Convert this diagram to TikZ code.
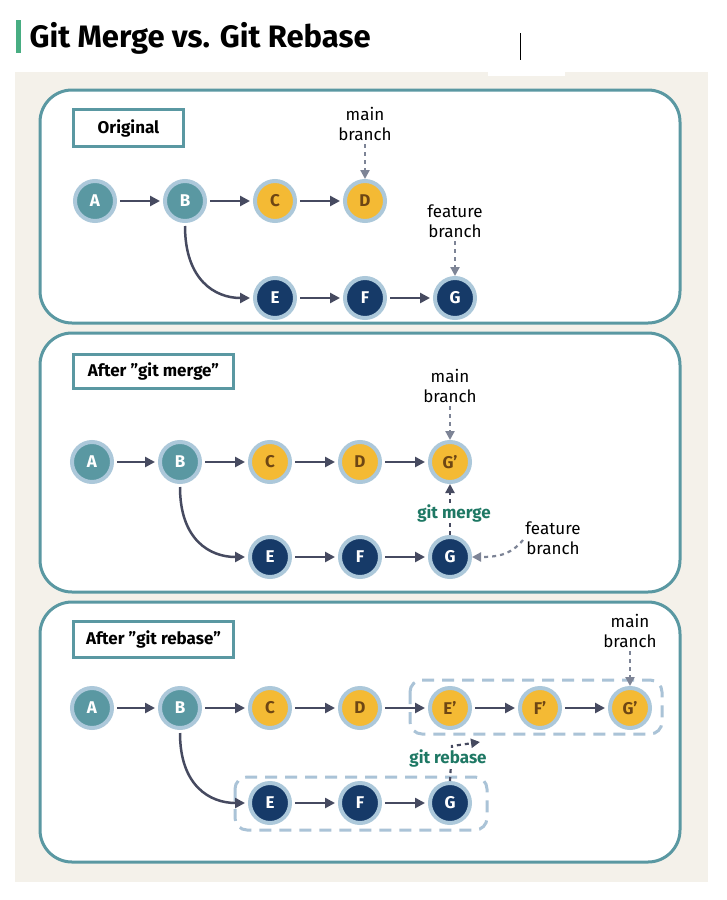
\documentclass[tikz,border=0pt]{standalone}
\usepackage{fontspec}
\setmainfont{Fira Sans}
\usetikzlibrary{arrows.meta}
\definecolor{teal}{RGB}{90,152,162}
\definecolor{ring}{RGB}{172,200,218}
\definecolor{yel}{RGB}{244,186,52}
\definecolor{navy}{RGB}{22,58,104}
\definecolor{arr}{RGB}{70,74,96}
\definecolor{dgray}{RGB}{125,132,150}
\definecolor{beige}{RGB}{244,241,234}
\definecolor{gtxt}{RGB}{30,120,100}
\definecolor{brown}{RGB}{110,70,20}
\definecolor{dbox}{RGB}{170,195,215}
\newcommand{\dq}{\symbol{34}}
\begin{document}
\begin{tikzpicture}[x=1pt,y=-1pt,
  cmt/.style={circle,minimum size=40pt,inner sep=0pt,draw=ring,line width=4pt,font=\fontsize{17}{19}\selectfont\bfseries},
  ct/.style={cmt,fill=teal,text=white},
  cy/.style={cmt,fill=yel,text=brown},
  cn/.style={cmt,fill=navy,text=white},
  ar/.style={arr,line width=2.5pt,-{Triangle[length=10pt,width=10pt]},shorten >=3pt,shorten <=3pt},
  da/.style={dgray,line width=2.2pt,dash pattern=on 4pt off 4pt,-{Triangle[length=9pt,width=9pt]}},
  panel/.style={draw=teal,line width=3pt,fill=white,rounded corners=32pt},
  lbl/.style={draw=teal,line width=3pt,fill=white,inner sep=0pt,font=\fontsize{17}{19}\selectfont\bfseries,anchor=north west},
  txt/.style={font=\fontsize{17}{20}\selectfont,align=center},
  gt/.style={fill=white,inner sep=1pt,font=\fontsize{17}{20}\selectfont\bfseries,text=gtxt},
  dbx/.style={draw=dbox,line width=3pt,dash pattern=on 12pt off 8pt,rounded corners=12pt}]
\useasboundingbox (0,0) rectangle (726,900);
\fill[white] (0,0) rectangle (726,900);
\fill[beige] (15,72) rectangle (708,882);
\fill[white] (488,56) rectangle (565,76);
\fill[teal!80!green] (16,20) rectangle (21,53);
\node[anchor=west,font=\fontsize{31}{34}\selectfont\bfseries] (title) at (26,38) {Git Merge vs. Git Rebase};
\draw[black,line width=1pt] (520,33) -- (520,60);
% panel 1
\draw[panel] (40,90) rectangle (680,323);
\node[lbl,minimum width=110pt,minimum height=37pt] (l1) at (72,108) {Original};
\node[ct] (A1) at (95,201) {A};
\node[ct] (B1) at (185,201) {B};
\node[cy] (C1) at (275,201) {C};
\node[cy] (D1) at (365,201) {D};
\node[cn] (E1) at (275,298) {E};
\node[cn] (F1) at (365,298) {F};
\node[cn] (G1) at (455,298) {G};
\draw[ar] (A1)--(B1); \draw[ar] (B1)--(C1); \draw[ar] (C1)--(D1);
\draw[ar] (E1)--(F1); \draw[ar] (F1)--(G1);
\draw[ar] (B1.south) .. controls (185,280) and (215,298) .. (E1.west);
\node[txt] (m1) at (365,124) {main\\branch};
\node[txt] (f1) at (455,221) {feature\\branch};
\draw[da] (m1.south) -- (D1.north);
\draw[da] (f1.south) -- (G1.north);
% panel 2
\draw[panel] (40,333) rectangle (680,592);
\node[lbl,minimum width=160pt,minimum height=34pt] (l2) at (72,353) {After \dq git merge\dq};
\node[ct] (A2) at (92,462) {A};
\node[ct] (B2) at (180,462) {B};
\node[cy] (C2) at (270,462) {C};
\node[cy] (D2) at (360,462) {D};
\node[cy] (Gp2) at (450,462) {G'};
\node[cn] (E2) at (270,557) {E};
\node[cn] (F2) at (360,557) {F};
\node[cn] (G2) at (450,557) {G};
\draw[ar] (A2)--(B2); \draw[ar] (B2)--(C2); \draw[ar] (C2)--(D2); \draw[ar] (D2)--(Gp2);
\draw[ar] (E2)--(F2); \draw[ar] (F2)--(G2);
\draw[ar] (B2.south) .. controls (180,540) and (210,557) .. (E2.west);
\node[txt] (m2) at (450,386) {main\\branch};
\draw[da] (m2.south) -- (Gp2.north);
\draw[da,arr] (G2.north) -- (Gp2.south);
\node[gt] (gm) at (454,513) {git merge};
\node[txt] (f2) at (553,538) {feature\\branch};
\coordinate (fs) at (523,540);
\draw[da] (fs) .. controls (510,556) and (495,557) .. (G2.east);
% panel 3
\draw[panel] (40,602) rectangle (680,862);
\node[lbl,minimum width=160pt,minimum height=36pt] (l3) at (72,620) {After \dq git rebase\dq};
\draw[dbx] (410,680) rectangle (662,734);
\draw[dbx] (235,777) rectangle (487,830);
\node[ct] (A3) at (92,708) {A};
\node[ct] (B3) at (180,708) {B};
\node[cy] (C3) at (270,708) {C};
\node[cy] (D3) at (360,708) {D};
\node[cy] (Ep3) at (450,708) {E'};
\node[cy] (Fp3) at (540,708) {F'};
\node[cy] (Gp3) at (630,708) {G'};
\node[cn] (E3) at (270,803) {E};
\node[cn] (F3) at (360,803) {F};
\node[cn] (G3) at (450,803) {G};
\draw[ar] (A3)--(B3); \draw[ar] (B3)--(C3); \draw[ar] (C3)--(D3); \draw[ar] (D3)--(Ep3);
\draw[ar] (Ep3)--(Fp3); \draw[ar] (Fp3)--(Gp3);
\draw[ar] (E3)--(F3); \draw[ar] (F3)--(G3);
\draw[ar] (B3.south) .. controls (180,786) and (210,803) .. (E3.west);
\node[txt] (m3) at (630,631) {main\\branch};
\draw[da] (m3.south) -- (Gp3.north);
\coordinate (rb) at (480,742);
\draw[da,arr] (G3.north) -- (452,746) -- (rb);
\node[gt] (gr) at (448,758) {git rebase};
\end{tikzpicture}
\end{document}
